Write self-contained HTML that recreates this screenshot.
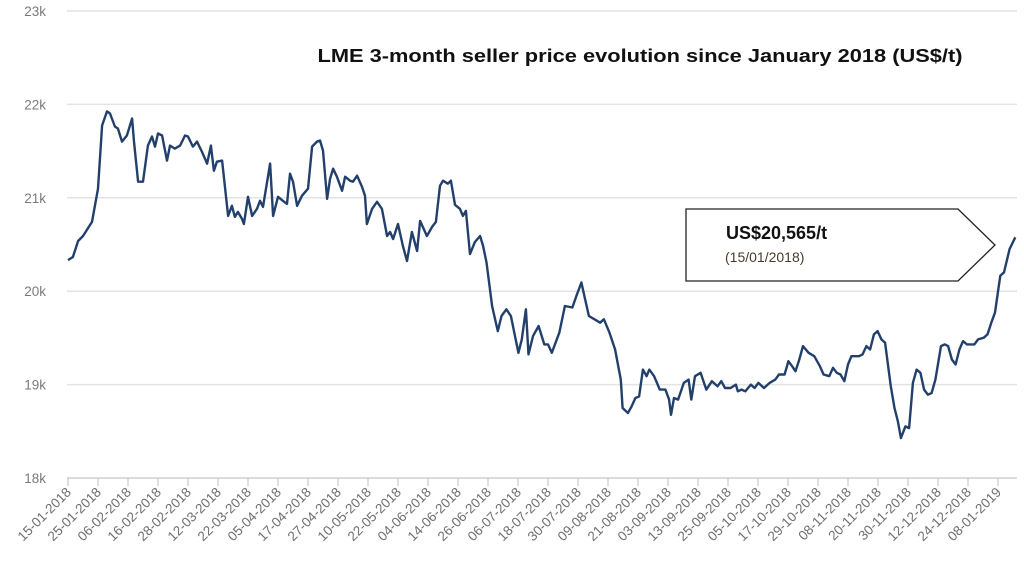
<!DOCTYPE html>
<html><head><meta charset="utf-8"><style>
html,body{margin:0;padding:0;background:#fff;width:1024px;height:564px;overflow:hidden}
svg{display:block;font-family:"Liberation Sans",sans-serif}
</style></head><body>
<svg id="chart" width="1024" height="564" viewBox="0 0 1024 564">
<text x="640" y="62" text-anchor="middle" font-size="18" font-weight="bold" fill="#111" textLength="645" lengthAdjust="spacingAndGlyphs">LME 3-month seller price evolution since January 2018 (US$/t)</text>
<g id="grid"></g><g id="yax"></g><g id="xax"></g><g id="series"></g>
<g>
<polygon points="686,209 958,209 995,245 958,281 686,281" fill="#fff" stroke="#222" stroke-width="1.3"/>
<text x="726" y="239" font-size="18" font-weight="bold" fill="#111">US$20,565/t</text>
<text x="725" y="262" font-size="14" fill="#4a3a2a">(15/01/2018)</text>
</g>
</svg>
<script>
const yTicks=[18000,19000,20000,21000,22000,23000];
const yTickLabels=["18k","19k","20k","21k","22k","23k"];
const xTickLabels=["15-01-2018","25-01-2018","06-02-2018","16-02-2018","28-02-2018","12-03-2018","22-03-2018","05-04-2018","17-04-2018","27-04-2018","10-05-2018","22-05-2018","04-06-2018","14-06-2018","26-06-2018","06-07-2018","18-07-2018","30-07-2018","09-08-2018","21-08-2018","03-09-2018","13-09-2018","25-09-2018","05-10-2018","17-10-2018","29-10-2018","08-11-2018","20-11-2018","30-11-2018","12-12-2018","24-12-2018","08-01-2019"];
const days=[0,1.3,2.7,4,6.4,8,9.1,10.4,11.2,12.5,13.3,14.4,15.7,17.1,17.6,18.7,20,21.3,22.4,23.2,24,25.1,26.4,27.2,28.5,29.9,31.2,32,33.3,34.4,35.7,37.1,38.1,38.9,39.7,41.1,42.7,43.7,44.5,45.3,46.4,46.9,48,49.1,50.4,51.2,52,53.9,54.7,56,57.3,58.4,59.2,60,61.1,62.4,64,65.1,66.4,67.2,68,69.1,69.9,70.7,71.7,73.1,73.9,75.2,76,77.1,78.4,79.2,79.7,81.1,82.4,83.7,85.1,85.9,86.7,88,89.3,90.4,91.7,93.1,93.9,95.7,97.1,98.1,99.2,100,101.3,102.1,103.2,104.5,105.3,106.1,107.2,108.5,109.9,110.7,111.6,113.1,114.6,115.6,116.9,118.1,120.1,121,122.1,122.8,124,125.5,127,128,129,131,132.5,134.5,135.4,136.9,137.9,138.9,140.4,141.9,142.9,144.4,145.9,147.4,147.9,149.3,150.3,151.3,152.3,153.3,154.3,155,156.3,157.8,159.3,160.3,160.8,161.6,162.7,164.2,165.5,166.2,167.2,168.7,170.2,171.7,173.2,174.2,175.2,176.7,178.1,178.6,179.6,180.6,182.1,183.1,184.1,185.6,187.1,188.6,189.6,191.1,192.1,193.1,194,195,196,197.5,199,200.5,201.5,203,204,205,206,207,208,208.9,210.9,211.9,212.9,213.9,214.9,215.9,216.9,217.9,219.4,220.4,221.3,222.1,223.3,224.3,225.3,226.3,227.3,228.3,229.3,230.3,231.3,232.8,233.8,234.7,235.7,236.7,237.7,238.7,239.7,241.7,242.7,244.2,245.2,246.2,247.2,248.2,248.6,249.6,251.1,252.6];
const prices=[20333,20366,20538,20591,20742,21097,21774,21925,21903,21763,21742,21602,21667,21849,21602,21172,21172,21559,21656,21548,21688,21667,21398,21559,21527,21559,21667,21656,21548,21602,21495,21366,21559,21290,21387,21398,20806,20914,20796,20849,20774,20720,21011,20806,20882,20968,20903,21366,20806,21011,20968,20935,21258,21172,20914,21022,21097,21548,21602,21613,21505,20989,21204,21312,21226,21075,21226,21183,21172,21237,21118,21022,20720,20882,20957,20882,20591,20634,20559,20720,20484,20323,20634,20430,20753,20591,20688,20742,21129,21183,21151,21183,20925,20882,20806,20860,20398,20527,20591,20484,20308,19842,19573,19734,19806,19734,19341,19484,19806,19323,19519,19627,19430,19430,19341,19556,19842,19825,19932,20093,19914,19734,19699,19663,19699,19556,19376,19054,18749,18696,18767,18857,18874,19161,19090,19161,19090,18946,18946,18839,18677,18857,18839,19018,19054,18839,19090,19126,18946,19036,18982,19036,18964,18964,19000,18928,18946,18928,19000,18964,19018,18964,19018,19054,19108,19108,19251,19197,19143,19269,19412,19341,19304,19197,19108,19090,19180,19126,19108,19036,19215,19304,19304,19323,19412,19376,19538,19573,19484,19448,18982,18749,18606,18427,18552,18534,19018,19161,19126,18946,18892,18910,19054,19412,19430,19412,19269,19215,19376,19466,19430,19430,19484,19502,19538,19663,19771,20057,20165,20201,20452,20577];
const NS='http://www.w3.org/2000/svg';
const X0=67,X1=1017,DAY=3.75,TICKDAYS=8;
function xs(d){return 68+d*DAY;}
function ys(v){return 478-(v-18000)*0.0934;}
function mk(tag,attrs,parent){const e=document.createElementNS(NS,tag);for(const k in attrs)e.setAttribute(k,attrs[k]);parent.appendChild(e);return e;}
const grid=document.getElementById('grid'),yax=document.getElementById('yax'),xax=document.getElementById('xax'),ser=document.getElementById('series');
yTicks.forEach((v,i)=>{
  if(i>0){const g=mk('line',{x1:X0,x2:X1,y1:ys(v),y2:ys(v),stroke:'#e3e3e3','stroke-width':1.5},grid);
  
  }
  const t=mk('text',{x:46,y:ys(v)+5,'text-anchor':'end','font-size':13.5,fill:'#7a7a7a'},yax);
  t.textContent=yTickLabels[i];
  
  
});
const ax=mk('line',{x1:X0,x2:X1,y1:478,y2:478,stroke:'#c8c8c8','stroke-width':1.2},xax);


xTickLabels.forEach((lab,i)=>{
  const x=xs(i*TICKDAYS);
  const tk=mk('line',{x1:x,x2:x,y1:478,y2:486,stroke:'#c8c8c8','stroke-width':1.2},xax);
  
  
  const t=mk('text',{x:x+4,y:493,'text-anchor':'end','font-size':13.5,fill:'#6e6e6e',transform:`rotate(-45 ${x+4} 493)`},xax);
  t.textContent=lab;
  
  
});
const pts=days.map((d,i)=>xs(d).toFixed(1)+','+ys(prices[i]).toFixed(1)).join(' ');
const pl=mk('polyline',{points:pts,fill:'none',stroke:'#22406b','stroke-width':2.4,'stroke-linejoin':'round'},ser);


</script>
</body></html>
